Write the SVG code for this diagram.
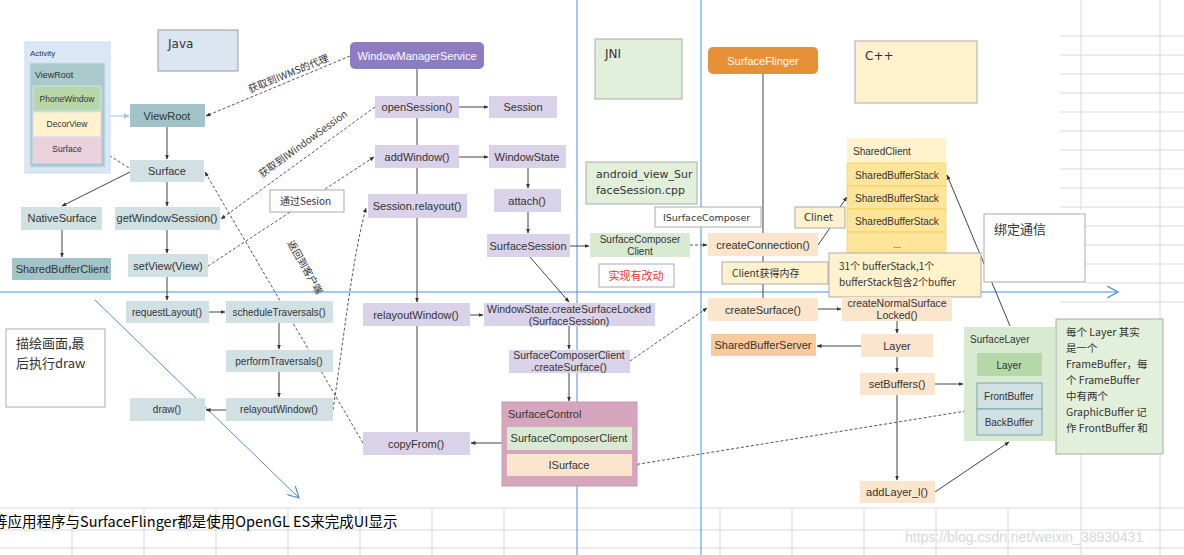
<svg xmlns="http://www.w3.org/2000/svg" width="1184" height="555" viewBox="0 0 1184 555">
<defs>
<marker id="a" viewBox="0 0 10 10" refX="9" refY="5" markerWidth="5" markerHeight="5" orient="auto"><path d="M0,1L10,5L0,9z" fill="#333"/></marker>
<marker id="b" viewBox="0 0 10 10" refX="9" refY="5" markerWidth="6" markerHeight="6" orient="auto"><path d="M0,0L10,5L0,10z" fill="#9fc5e8"/></marker>
<marker id="c" viewBox="0 0 12 12" refX="11" refY="6" markerWidth="12" markerHeight="12" orient="auto" markerUnits="userSpaceOnUse"><path d="M0,0L11,6L0,12" fill="none" stroke="#4a90d9" stroke-width="1.2"/></marker>
<style>
svg{font-size:11px}
text{font-family:"Liberation Sans",Arial,"Noto Sans CJK SC",sans-serif;fill:#333}
.c{text-anchor:middle}
.ln{stroke:#444;stroke-width:1;fill:none}
.arr{stroke:#444;stroke-width:1;fill:none;marker-end:url(#a)}
.dash{stroke:#555;stroke-width:1;fill:none;stroke-dasharray:3,2}
.dasha{stroke:#555;stroke-width:1;fill:none;stroke-dasharray:3,2;marker-end:url(#a)}
.teal{fill:#a2c4c9}.lt{fill:#d0e0e3}.pu{fill:#d9d2e9}.pe{fill:#fce5cd}.gr{fill:#d9ead3}.ye{fill:#fff2cc}
.box{fill:#fff;stroke:#aaa}
.grid{stroke:#d9d9d9;stroke-width:1}
.cjk{font-family:"Noto Sans CJK SC","Liberation Sans",sans-serif}
.dv{font-family:"DejaVu Sans","Noto Sans CJK SC",sans-serif}
</style>
</defs>
<rect width="1184" height="555" fill="#fff"/>
<g id="grid">
<line class="grid" x1="0" y1="508" x2="1184" y2="508"/><line class="grid" x1="0" y1="530" x2="1184" y2="530"/><line class="grid" x1="0" y1="548" x2="1184" y2="548"/>
<line class="grid" x1="1060" y1="36" x2="1184" y2="36"/><line class="grid" x1="1060" y1="55" x2="1184" y2="55"/><line class="grid" x1="1060" y1="74" x2="1184" y2="74"/><line class="grid" x1="1060" y1="93" x2="1184" y2="93"/><line class="grid" x1="1060" y1="112" x2="1184" y2="112"/><line class="grid" x1="1060" y1="131" x2="1184" y2="131"/><line class="grid" x1="1060" y1="150" x2="1184" y2="150"/><line class="grid" x1="1060" y1="169" x2="1184" y2="169"/><line class="grid" x1="1060" y1="188" x2="1184" y2="188"/><line class="grid" x1="1060" y1="207" x2="1184" y2="207"/><line class="grid" x1="1085" y1="226" x2="1184" y2="226"/><line class="grid" x1="1085" y1="245" x2="1184" y2="245"/><line class="grid" x1="1085" y1="264" x2="1184" y2="264"/><line class="grid" x1="1085" y1="283" x2="1184" y2="283"/><line class="grid" x1="1060" y1="302" x2="1184" y2="302"/><line class="grid" x1="1160" y1="0" x2="1160" y2="555"/><line class="grid" x1="1081" y1="0" x2="1081" y2="210"/>
<line class="grid" x1="72" y1="508" x2="72" y2="555"/><line class="grid" x1="144" y1="508" x2="144" y2="555"/><line class="grid" x1="216" y1="508" x2="216" y2="555"/><line class="grid" x1="288" y1="508" x2="288" y2="555"/><line class="grid" x1="360" y1="508" x2="360" y2="555"/><line class="grid" x1="432" y1="508" x2="432" y2="555"/><line class="grid" x1="504" y1="508" x2="504" y2="555"/><line class="grid" x1="720" y1="508" x2="720" y2="555"/><line class="grid" x1="792" y1="508" x2="792" y2="555"/><line class="grid" x1="864" y1="508" x2="864" y2="555"/><line class="grid" x1="936" y1="508" x2="936" y2="555"/><line class="grid" x1="1008" y1="508" x2="1008" y2="555"/><line class="grid" x1="1081" y1="454" x2="1081" y2="555"/>
</g>
<g id="guides">
<line x1="577" y1="0" x2="577" y2="555" stroke="#4a90d9"/>
<line x1="701" y1="0" x2="701" y2="555" stroke="#4a90d9"/>
<line x1="0" y1="292" x2="1118" y2="292" stroke="#4a90d9" marker-end="url(#c)"/>
<line x1="95" y1="300" x2="299" y2="498" stroke="#4a90d9" marker-end="url(#c)"/>
</g>
<g id="connectors">
<line x1="110" y1="116" x2="129" y2="116" stroke="#9fc5e8" marker-end="url(#b)"/>
<line class="dash" x1="101" y1="150" x2="129" y2="168"/>
<line class="arr" x1="167" y1="127" x2="167" y2="159"/>
<line class="arr" x1="130" y1="172" x2="62" y2="206"/>
<line class="arr" x1="167" y1="182" x2="167" y2="206"/>
<line class="arr" x1="62" y1="230" x2="62" y2="257"/>
<line class="arr" x1="167" y1="230" x2="167" y2="253"/>
<line class="arr" x1="167" y1="277" x2="167" y2="300"/>
<line class="arr" x1="209" y1="312" x2="225" y2="312"/>
<line class="arr" x1="279" y1="323" x2="279" y2="349"/>
<line class="arr" x1="279" y1="372" x2="279" y2="397"/>
<line class="arr" x1="226" y1="410" x2="206" y2="410"/>
<line class="dasha" x1="350" y1="56" x2="206" y2="116"/>
<line class="dasha" x1="375" y1="107" x2="221" y2="219"/>
<line class="dasha" x1="208" y1="266" x2="374" y2="157"/>
<path class="dasha" d="M333,410 C345,330 352,260 366,208"/>
<line class="dasha" x1="363" y1="443" x2="205" y2="172"/>
<line class="ln" x1="417" y1="69" x2="417" y2="96"/>
<line class="ln" x1="417" y1="118" x2="417" y2="145"/>
<line class="ln" x1="417" y1="168" x2="417" y2="194"/>
<line class="arr" x1="417" y1="218" x2="417" y2="302"/>
<line class="ln" x1="417" y1="326" x2="417" y2="432"/>
<line class="arr" x1="459" y1="107" x2="488" y2="107"/>
<line class="arr" x1="459" y1="157" x2="488" y2="157"/>
<line class="arr" x1="528" y1="168" x2="528" y2="188"/>
<line class="arr" x1="528" y1="212" x2="528" y2="233"/>
<line class="arr" x1="570" y1="246" x2="589" y2="246"/>
<line class="arr" x1="530" y1="257" x2="569" y2="302"/>
<line class="arr" x1="470" y1="315" x2="483" y2="315"/>
<line class="arr" x1="569" y1="326" x2="569" y2="349"/>
<line class="arr" x1="569" y1="372" x2="569" y2="401"/>
<line class="arr" x1="502" y1="443" x2="471" y2="443"/>
<line class="dasha" x1="630" y1="361" x2="707" y2="308"/>
<line class="dasha" x1="690" y1="245" x2="707" y2="245"/>
<line class="ln" x1="818" y1="245" x2="830" y2="228"/>
<line class="arr" x1="840" y1="207" x2="847" y2="197"/>
<line class="ln" x1="763" y1="74" x2="763" y2="233"/>
<line class="ln" x1="763" y1="256" x2="763" y2="298"/>
<line class="arr" x1="818" y1="309" x2="841" y2="309"/>
<line class="arr" x1="897" y1="321" x2="897" y2="333"/>
<line class="arr" x1="861" y1="346" x2="817" y2="346"/>
<line class="arr" x1="897" y1="357" x2="897" y2="372"/>
<line class="arr" x1="935" y1="384" x2="963" y2="384"/>
<line class="arr" x1="897" y1="395" x2="897" y2="480"/>
<line class="arr" x1="935" y1="492" x2="1009" y2="442"/>
<line class="dasha" x1="966" y1="411" x2="633" y2="465"/>
<line class="arr" x1="1010" y1="326" x2="947" y2="175"/>
</g>
<g id="activity">
<rect x="25" y="42" width="85" height="131" fill="#dae8f5" stroke="#c6dcf0"/>
<text x="30" y="56" font-size="8">Activity</text>
<rect x="30" y="63" width="75" height="104" fill="#a9c9cb" stroke="#c6dcf0"/>
<text x="35" y="78" font-size="9">ViewRoot</text>
<rect x="33" y="86" width="68" height="25" fill="#b6d7a8" stroke="#dde"/><text class="c" x="67" y="102" font-size="8.5">PhoneWindow</text>
<rect x="33" y="112" width="68" height="25" fill="#fff2cc" stroke="#dde"/><text class="c" x="67" y="127" font-size="8.5">DecorView</text>
<rect x="33" y="137" width="68" height="26" fill="#ead1dc" stroke="#dde"/><text class="c" x="67" y="152" font-size="8.5">Surface</text>
</g>
<g id="java"><rect x="158" y="30" width="80" height="41" fill="#dce6f1" stroke="#999"/><text class="dv" x="168" y="48" font-size="12">Java</text></g>
<g id="viewroot"><rect class="teal" x="130" y="104" width="75" height="23"/><text class="c" x="167" y="120">ViewRoot</text></g>
<g id="surface"><rect class="lt" x="130" y="160" width="74" height="22"/><text class="c" x="167" y="175">Surface</text></g>
<g id="nativesurface"><rect class="lt" x="21" y="207" width="81" height="23"/><text class="c" x="62" y="222">NativeSurface</text></g>
<g id="getws"><rect class="lt" x="115" y="207" width="105" height="23"/><text class="c" x="167" y="222">getWindowSession()</text></g>
<g id="sbc"><rect class="teal" x="12" y="258" width="99" height="22"/><text class="c" x="62" y="273">SharedBufferClient</text></g>
<g id="setview"><rect class="lt" x="128" y="254" width="80" height="23"/><text class="c" x="168" y="270">setView(View)</text></g>
<g id="requestlayout"><rect class="lt" x="126" y="301" width="83" height="22"/><text class="c" x="167" y="316" font-size="10">requestLayout()</text></g>
<g id="schedule"><rect class="lt" x="226" y="301" width="107" height="22"/><text class="c" x="279" y="316" font-size="10">scheduleTraversals()</text></g>
<g id="perform"><rect class="lt" x="226" y="350" width="107" height="22"/><text class="c" x="279" y="365" font-size="10">performTraversals()</text></g>
<g id="relayoutL"><rect class="lt" x="226" y="398" width="107" height="23"/><text class="c" x="279" y="413" font-size="10">relayoutWindow()</text></g>
<g id="draw"><rect class="lt" x="130" y="398" width="75" height="23"/><text class="c" x="167" y="413" font-size="10">draw()</text></g>
<g id="note-draw"><rect class="box" x="6" y="329" width="99" height="78"/><text class="cjk" x="16" y="348" font-size="13">描绘画面,最</text><text class="cjk" x="16" y="368" font-size="13">后执行draw</text></g>
<g id="note-sesion"><rect class="box" x="270" y="190" width="74" height="22"/><text class="cjk" x="280" y="205" font-size="10">通过Sesion</text></g>
<g id="labels">
<text class="cjk" transform="translate(250,93) rotate(-22)" font-size="10">获取到IWMS的代理</text>
<text class="cjk" transform="translate(262,178) rotate(-36)" font-size="10">获取到IWindowSession</text>
<text class="cjk" transform="translate(287,243) rotate(60)" font-size="10">返回到客户端</text>
</g>
<g id="wms"><rect x="350" y="42" width="134" height="27" rx="5" fill="#8e7cc3"/><text class="c" x="417" y="60" style="fill:#fff">WindowManagerService</text></g>
<g id="opensession"><rect class="pu" x="375" y="96" width="84" height="22"/><text class="c" x="417" y="111">openSession()</text></g>
<g id="session"><rect class="pu" x="489" y="96" width="68" height="22"/><text class="c" x="523" y="111">Session</text></g>
<g id="addwindow"><rect class="pu" x="375" y="145" width="84" height="23"/><text class="c" x="417" y="161">addWindow()</text></g>
<g id="windowstate"><rect class="pu" x="489" y="145" width="77" height="23"/><text class="c" x="527" y="161">WindowState</text></g>
<g id="attach"><rect class="pu" x="494" y="189" width="67" height="23"/><text class="c" x="527" y="205">attach()</text></g>
<g id="sessionrelayout"><rect class="pu" x="368" y="194" width="99" height="24"/><text class="c" x="417" y="210">Session.relayout()</text></g>
<g id="surfacesession"><rect class="pu" x="487" y="234" width="83" height="23"/><text class="c" x="528" y="250">SurfaceSession</text></g>
<g id="relayoutM"><rect class="pu" x="363" y="303" width="107" height="23"/><text class="c" x="416" y="319">relayoutWindow()</text></g>
<g id="createsurfacelocked"><rect class="pu" x="484" y="303" width="171" height="23"/><text class="c" x="569" y="313" font-size="10.5">WindowState.createSurfaceLocked</text><text class="c" x="569" y="325" font-size="10.5">(SurfaceSession)</text></g>
<g id="scccreate"><rect class="pu" x="509" y="350" width="121" height="23"/><text class="c" x="569" y="359" font-size="10.5">SurfaceComposerClient</text><text class="c" x="569" y="371" font-size="10.5">.createSurface()</text></g>
<g id="surfacecontrol"><rect x="502" y="402" width="135" height="84" fill="#d5a6bd" stroke="#c9a"/><text x="508" y="418">SurfaceControl</text>
<rect class="gr" x="507" y="427" width="125" height="23"/><text class="c" x="569" y="442">SurfaceComposerClient</text>
<rect class="pe" x="507" y="454" width="125" height="22"/><text class="c" x="569" y="469">ISurface</text></g>
<g id="copyfrom"><rect class="pu" x="363" y="432" width="107" height="23"/><text class="c" x="416" y="448">copyFrom()</text></g>
<g id="jni"><rect x="595" y="39" width="87" height="60" fill="#e2efda" stroke="#aaa"/><text class="dv" x="605" y="58" font-size="12">JNI</text></g>
<g id="androidview"><rect x="586" y="162" width="111" height="42" fill="#e2efda" stroke="#aaa"/><text class="dv" x="596" y="178" font-size="11">android_view_Sur</text><text class="dv" x="596" y="194" font-size="11">faceSession.cpp</text></g>
<g id="isurfacecomposer"><rect class="box" x="655" y="207" width="106" height="20"/><text class="dv" x="663" y="221" font-size="9.5">ISurfaceComposer</text></g>
<g id="sccjni"><rect class="gr" x="590" y="233" width="100" height="24"/><text class="c" x="640" y="243" font-size="10">SurfaceComposer</text><text class="c" x="640" y="255" font-size="10">Client</text></g>
<g id="note-change"><rect class="box" x="599" y="264" width="75" height="23"/><text class="c cjk" x="636" y="280" font-size="11" style="fill:#e33">实现有改动</text></g>
<g id="surfaceflinger"><rect x="708" y="47" width="110" height="27" rx="5" fill="#e69138"/><text class="c" x="763" y="65" style="fill:#fff">SurfaceFlinger</text></g>
<g id="cpp"><rect x="855" y="41" width="122" height="62" fill="#fff2cc" stroke="#aaa"/><text class="dv" x="865" y="60" font-size="12">C++</text></g>
<g id="sharedclient"><rect class="ye" x="847" y="138" width="99" height="25"/><text x="853" y="155" font-size="10">SharedClient</text>
<rect x="847" y="163" width="99" height="23" fill="#ffe599" stroke="#f1c232" stroke-width="0.5"/><text class="c" x="897" y="179" font-size="10">SharedBufferStack</text>
<rect x="847" y="186" width="99" height="23" fill="#ffe599" stroke="#f1c232" stroke-width="0.5"/><text class="c" x="897" y="202" font-size="10">SharedBufferStack</text>
<rect x="847" y="209" width="99" height="23" fill="#ffe599" stroke="#f1c232" stroke-width="0.5"/><text class="c" x="897" y="225" font-size="10">SharedBufferStack</text>
<rect x="847" y="232" width="99" height="23" fill="#ffe599" stroke="#f1c232" stroke-width="0.5"/><text class="c" x="897" y="248" font-size="9">...</text></g>
<g id="clinet"><rect x="795" y="207" width="50" height="21" fill="#fff2cc" stroke="#aaa"/><text class="dv" x="804" y="221" font-size="10">Clinet</text></g>
<g id="createconnection"><rect class="pe" x="708" y="233" width="110" height="23"/><text class="c" x="763" y="249">createConnection()</text></g>
<g id="clientmem"><rect x="722" y="262" width="106" height="22" fill="#fff2cc" stroke="#aaa"/><text class="cjk" x="732" y="277" font-size="10">Client获得内存</text></g>
<g id="note31"><rect x="829" y="253" width="152" height="44" fill="#fff2cc" stroke="#aaa"/><text class="cjk" x="839" y="270" font-size="10">31个 bufferStack,1个</text><text class="cjk" x="839" y="286" font-size="10">bufferStack包含2个buffer</text></g>
<g id="bind"><rect class="box" x="984" y="214" width="101" height="68"/><text class="cjk" x="994" y="234" font-size="13">绑定通信</text></g>
<g id="createsurface"><rect class="pe" x="708" y="298" width="110" height="23"/><text class="c" x="763" y="314">createSurface()</text></g>
<g id="createnormal"><rect class="pe" x="842" y="297" width="110" height="24"/><text class="c" x="897" y="307" font-size="10.5">createNormalSurface</text><text class="c" x="897" y="319" font-size="10.5">Locked()</text></g>
<g id="sbs"><rect x="711" y="334" width="105" height="22" fill="#f9cb9c"/><text class="c" x="763" y="349">SharedBufferServer</text></g>
<g id="layer"><rect class="pe" x="861" y="334" width="72" height="23"/><text class="c" x="897" y="350">Layer</text></g>
<g id="setbuffers"><rect class="pe" x="860" y="373" width="75" height="22"/><text class="c" x="897" y="388">setBuffers()</text></g>
<g id="addlayer"><rect class="pe" x="860" y="481" width="75" height="22"/><text class="c" x="897" y="496">addLayer_l()</text></g>
<g id="surfacelayer"><rect class="gr" x="964" y="327" width="91" height="114"/><text x="970" y="343" font-size="10">SurfaceLayer</text>
<rect x="977" y="353" width="65" height="23" fill="#b6d7a8"/><text class="c" x="1009" y="369" font-size="10">Layer</text>
<rect x="977" y="383" width="65" height="26" fill="#d0e0e3" stroke="#76a5af"/><text class="c" x="1009" y="400" font-size="10">FrontBuffer</text>
<rect x="977" y="409" width="65" height="26" fill="#d0e0e3" stroke="#76a5af"/><text class="c" x="1009" y="426" font-size="10">BackBuffer</text></g>
<g id="note-layer"><rect x="1056" y="319" width="107" height="135" fill="#e2efda" stroke="#aaa"/>
<text class="cjk" x="1066" y="336" font-size="10.5">每个 Layer 其实</text><text class="cjk" x="1066" y="352" font-size="10.5">是一个</text><text class="cjk" x="1066" y="368" font-size="10.5">FrameBuffer，每</text><text class="cjk" x="1066" y="384" font-size="10.5">个 FrameBuffer</text><text class="cjk" x="1066" y="400" font-size="10.5">中有两个</text><text class="cjk" x="1066" y="416" font-size="10.5">GraphicBuffer 记</text><text class="cjk" x="1066" y="432" font-size="10.5">作 FrontBuffer 和</text></g>
<g id="bottom"><text class="cjk" x="-7" y="527" font-size="14.5" style="fill:#000">等应用程序与SurfaceFlinger都是使用OpenGL ES来完成UI显示</text>
<text x="905" y="542" font-size="14" style="fill:#d8d8d8">https://blog.csdn.net/weixin_38930431</text></g>
</svg>
